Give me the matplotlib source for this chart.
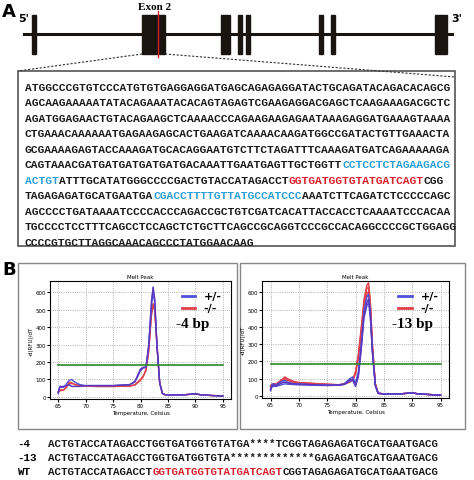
import matplotlib
matplotlib.use("Agg")
import matplotlib.pyplot as plt
from matplotlib.patches import Rectangle

W, H = 474, 481

# gene structure (exon start/end in px along the line)
exons = [(32, 36), (142, 165), (221, 230), (238, 242), (246, 250), (319, 323), (331, 335), (435, 447)]

# sequence lines: list of (text, colour) segments
BLK, BLU, RED = "#1a1a1a", "#2a9fd8", "#d8202a"
seq_lines = [
    [("ATGGCCCGTGTCCCATGTGTGAGGAGGATGAGCAGAGAGGATACTGCAGATACAGACACAGCG", BLK)],
    [("AGCAAGAAAAATATACAGAAATACACAGTAGAGTCGAAGAGGACGAGCTCAAGAAAGACGCTC", BLK)],
    [("AGATGGAGAACTGTACAGAAGCTCAAAACCCAGAAGAAGAGAATAAAGAGGATGAAAGTAAAA", BLK)],
    [("CTGAAACAAAAAATGAGAAGAGCACTGAAGATCAAAACAAGATGGCCGATACTGTTGAAACTA", BLK)],
    [("GCGAAAAGAGTACCAAAGATGCACAGGAATGTCTTCTAGATTTCAAAGATGATCAGAAAAAGA", BLK)],
    [("CAGTAAACGATGATGATGATGATGACAAATTGAATGAGTTGCTGGTT", BLK), ("CCTCCTCTAGAAGACG", BLU)],
    [("ACTGT", BLU), ("ATTTGCATATGGGCCCCGACTGTACCATAGACCT", BLK), ("GGTGATGGTGTATGATCAGT", RED), ("CGG", BLK)],
    [("TAGAGAGATGCATGAATGA", BLK), ("CGACCTTTTGTTATGCCATCCC", BLU), ("AAATCTTCAGATCTCCCCCAGC", BLK)],
    [("AGCCCCTGATAAAATCCCCACCCAGACCGCTGTCGATCACATTACCACCTCAAAATCCCACAA", BLK)],
    [("TGCCCCTCCTTTCAGCCTCCAGCTCTGCTTCAGCCGCAGGTCCCGCCACAGGCCCCGCTGGAGG", BLK)],
    [("CCCCGTGCTTAGGCAAACAGCCCTATGGAACAAG", BLK)],
]

align_labels = ["-4", "-13", "WT"]
align_lines = [
    [("ACTGTACCATAGACCTGGTGATGGTGTATGA****TCGGTAGAGAGATGCATGAATGACG", BLK)],
    [("ACTGTACCATAGACCTGGTGATGGTGTA*************GAGAGATGCATGAATGACG", BLK)],
    [("ACTGTACCATAGACCT", BLK), ("GGTGATGGTGTATGATCAGT", RED), ("CGGTAGAGAGATGCATGAATGACG", BLK)],
]

# melt curves
t_left = [65, 65.3, 66, 66.5, 67, 67.5, 68, 69, 70, 72, 75, 78, 79, 80, 80.5, 81, 81.5, 82, 82.3, 82.6, 83, 83.5, 84, 84.5, 85, 88, 90, 91, 93, 95]
left_het = [
    [20, 60, 60, 65, 70, 60, 60, 60, 65, 65, 65, 70, 90, 160, 170, 170, 300, 550, 630, 560, 300, 80, 20, 12, 12, 12, 18, 12, 8, 5],
    [30, 55, 55, 75, 95, 100, 85, 70, 65, 65, 65, 70, 85, 150, 165, 170, 290, 520, 600, 540, 290, 80, 20, 12, 12, 12, 18, 12, 8, 5],
]
left_hom = [
    [30, 40, 40, 60, 85, 80, 70, 65, 62, 60, 60, 62, 70, 100, 120, 150, 260, 480, 535, 500, 300, 80, 20, 12, 12, 12, 18, 12, 8, 5],
    [25, 35, 40, 55, 75, 78, 72, 66, 62, 60, 60, 62, 68, 95, 115, 160, 270, 470, 525, 495, 295, 80, 20, 12, 12, 12, 18, 12, 8, 5],
]
t_right = [65, 65.3, 66, 67, 67.5, 68, 69, 70, 72, 75, 77, 78, 79, 79.5, 80, 80.5, 81, 81.5, 82, 82.3, 82.6, 83, 83.5, 84, 85, 88, 90, 91, 93, 95]
right_het = [
    [30, 60, 60, 75, 80, 75, 70, 68, 65, 62, 62, 68, 95, 95, 60, 120, 280, 470, 540, 560, 480, 250, 60, 15, 12, 12, 18, 12, 8, 5],
    [40, 70, 65, 85, 90, 80, 72, 70, 66, 63, 63, 70, 100, 110, 75, 140, 300, 500, 570, 590, 500, 260, 60, 15, 12, 12, 18, 12, 8, 5],
    [35, 55, 55, 65, 70, 68, 66, 64, 62, 60, 62, 66, 85, 90, 55, 110, 260, 450, 520, 540, 460, 240, 60, 15, 12, 12, 18, 12, 8, 5],
]
right_hom = [
    [60, 70, 70, 95, 105, 95, 80, 75, 72, 66, 64, 68, 80, 90, 130, 230, 380, 560, 640, 655, 560, 290, 70, 15, 12, 12, 18, 12, 8, 5],
    [55, 65, 65, 90, 110, 100, 85, 78, 74, 68, 65, 70, 85, 95, 140, 240, 390, 540, 620, 630, 540, 280, 70, 15, 12, 12, 18, 12, 8, 5],
    [50, 60, 62, 85, 95, 90, 80, 76, 72, 67, 64, 68, 82, 92, 125, 220, 360, 520, 590, 605, 520, 270, 70, 15, 12, 12, 18, 12, 8, 5],
]
threshold = 185

fig = plt.figure(figsize=(W / 100, H / 100), dpi=100)
bg = fig.add_axes([0, 0, 1, 1])
bg.set_xlim(0, W)
bg.set_ylim(H, 0)
bg.axis("off")

# --- panel A: gene model
bg.text(2, 12, "A", fontsize=13, fontweight="bold", va="center")
bg.plot([24, 452], [35, 35], color="#1a1410", lw=2.2, zorder=1)
for x0, x1 in exons:
    bg.add_patch(Rectangle((x0, 16), x1 - x0, 39, color="#1a1410", zorder=2))
bg.plot([158, 158], [12, 58], color="#d8202a", lw=1, zorder=3)
bg.text(155, 8, "Exon 2", fontsize=8, fontweight="bold", family="Liberation Serif", ha="center", va="center")
bg.text(24, 19, "5'", fontsize=8, fontweight="bold", ha="center", va="center")
bg.text(457, 19, "3'", fontsize=8, fontweight="bold", ha="center", va="center")
bg.plot([142, 18], [55, 72], color="#333333", lw=0.8, ls=(0, (2, 1.5)))
bg.plot([165, 455], [55, 78], color="#333333", lw=0.8, ls=(0, (2, 1.5)))
bg.add_patch(Rectangle((18, 72), 437, 175, fill=False, ec="#555555", lw=1.2))

cw = 6.75
def draw_seq(x, y, segs, size, char_w):
    i = 0
    for s, c in segs:
        bg.text(x + i * char_w, y, s, fontsize=size, fontweight="bold", family="Liberation Mono",
                color=c, va="center", ha="left")
        i += len(s)

for k, segs in enumerate(seq_lines):
    draw_seq(25, 88 + k * 15.5, segs, 8.1, cw)

# --- panel B
bg.text(2, 270, "B", fontsize=13, fontweight="bold", va="center")
bg.add_patch(Rectangle((18, 264), 219, 166, fill=False, ec="#888888", lw=1))
bg.add_patch(Rectangle((240, 264), 225, 166, fill=False, ec="#888888", lw=1))

def melt(rect, t, het, hom, label):
    ax = fig.add_axes(rect)
    for y in hom:
        ax.plot(t, y, color="#e0404a", lw=1)
    for y in het:
        ax.plot(t, y, color="#5050d8", lw=1)
    ax.plot(t, het[0], color="#6a20a0", lw=0.8, alpha=0.6)
    ax.plot([65, 95], [threshold, threshold], color="#2a8a2a", lw=1.2)
    ax.set_xlim(63.5, 96.5)
    ax.set_ylim(-12, 665)
    ax.set_xticks(range(65, 96, 5))
    ax.set_yticks(range(0, 601, 100))
    ax.tick_params(labelsize=4, length=2, pad=1)
    ax.grid(True, ls=":", color="#999999", lw=0.6)
    ax.set_title("Melt Peak", fontsize=4, pad=2)
    ax.set_xlabel("Temperature, Celsius", fontsize=4, labelpad=1)
    ax.set_ylabel("-d(RFU)/dT", fontsize=4, labelpad=1)
    ax.plot([87.5, 90], [580, 580], color="#5050d8", lw=2)
    ax.plot([87.5, 90], [510, 510], color="#e0404a", lw=2)
    ax.text(91.5, 580, "+/-", fontsize=8, fontweight="bold", va="center")
    ax.text(91.5, 510, "-/-", fontsize=8, fontweight="bold", va="center")
    ax.text(86.5, 420, label, fontsize=11, fontweight="bold", family="Liberation Serif", va="center")

melt([50 / W, 1 - 400 / H, 181 / W, 118 / H], t_left, left_het, left_hom, "-4 bp")
melt([262 / W, 1 - 399 / H, 187 / W, 117 / H], t_right, right_het, right_hom, "-13 bp")

for k, (lab, segs) in enumerate(zip(align_labels, align_lines)):
    y = 444 + k * 14
    bg.text(17, y, lab, fontsize=7.8, fontweight="bold", family="Liberation Mono", va="center")
    draw_seq(48, y, segs, 7.8, 6.53)

fig.savefig("out.png", dpi=100)
